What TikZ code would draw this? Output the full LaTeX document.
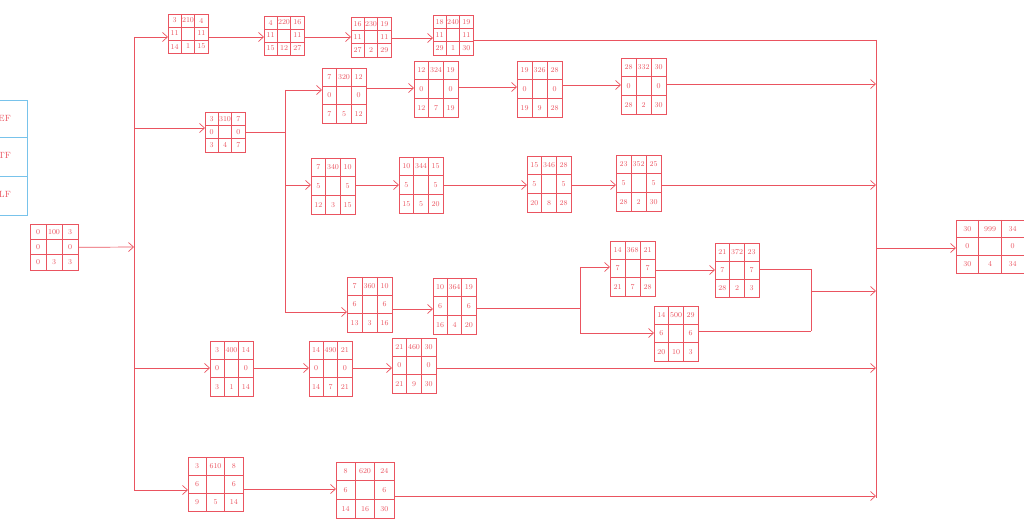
\documentclass[tikz,border=0pt]{standalone}
\usetikzlibrary{arrows.meta}
\definecolor{pr}{RGB}{234,84,96}
\definecolor{lb}{RGB}{120,195,235}
\tikzset{
 txt/.style={text=pr,font=\fontsize{7.5}{8}\selectfont,inner sep=0},
 ln/.style={draw=pr,line width=0.7pt},
 arr/.style={ln,-{Straight Barb[length=5pt,width=9pt]}},
}
\newcommand\pbox[8]{%
 \node[draw=pr,line width=0.7pt,minimum width=#4pt,minimum height=#5pt,anchor=north west,inner sep=0] (#1) at (#2,#3) {};
 \draw[pr,line width=0.5pt] ({#2+#4/3},#3) -- ++(0,#5) ({#2+2*#4/3},#3) -- ++(0,#5)
   (#2,{#3+#5/3}) -- ++(#4,0) (#2,{#3+2*#5/3}) -- ++(#4,0);
 \foreach \t [count=\i] in {#6} \node[txt] at ({#2+(\i-0.5)*#4/3},{#3+#5/6}) {\t};
 \foreach \t [count=\i] in {#7} \node[txt] at ({#2+(\i-0.5)*#4/3},{#3+#5/2}) {\t};
 \foreach \t [count=\i] in {#8} \node[txt] at ({#2+(\i-0.5)*#4/3},{#3+5*#5/6}) {\t};
}
\begin{document}
\begin{tikzpicture}[x=1pt,y=-1pt]
\useasboundingbox (0,0) rectangle (1024,526);
\clip (0,0) rectangle (1024,526);
% legend
\draw[lb,line width=0.7pt] (-5,100) rectangle (27,215) (-5,137) -- (27,137) (-5,176) -- (27,176);
\node[txt,anchor=east,font=\small] at (11,118) {EF};
\node[txt,anchor=east,font=\small] at (11,155) {TF};
\node[txt,anchor=east,font=\small] at (11,194) {LF};
% boxes
\pbox{A0}{30}{224}{48}{46}{0,100,3}{0,,0}{0,3,3}
\pbox{B1}{168}{14}{40}{39}{3,210,4}{11,,11}{14,1,15}
\pbox{B2}{264}{16}{40}{39}{4,220,16}{11,,11}{15,12,27}
\pbox{B3}{351}{17}{40}{40}{16,230,19}{11,,11}{27,2,29}
\pbox{B4}{433}{15}{40}{40}{18,240,19}{11,,11}{29,1,30}
\pbox{C1}{205}{112}{40}{40}{3,310,7}{0,,0}{3,4,7}
\pbox{C2}{322}{68}{44}{55}{7,320,12}{0,,0}{7,5,12}
\pbox{C3}{414}{61}{44}{56}{12,324,19}{0,,0}{12,7,19}
\pbox{C4}{517}{61}{45}{56}{19,326,28}{0,,0}{19,9,28}
\pbox{C5}{621}{58}{45}{56}{28,332,30}{0,,0}{28,2,30}
\pbox{D1}{311}{158}{44}{56}{7,340,10}{5,,5}{12,3,15}
\pbox{D2}{399}{157}{44}{56}{10,344,15}{5,,5}{15,5,20}
\pbox{D3}{527}{156}{44}{56}{15,346,28}{5,,5}{20,8,28}
\pbox{D4}{616}{155}{45}{56}{23,352,25}{5,,5}{28,2,30}
\pbox{E1}{347}{277}{45}{55}{7,360,10}{6,,6}{13,3,16}
\pbox{E2}{433}{278}{43}{56}{10,364,19}{6,,6}{16,4,20}
\pbox{E3}{610}{241}{45}{55}{14,368,21}{7,,7}{21,7,28}
\pbox{E4}{715}{243}{44}{54}{21,372,23}{7,,7}{28,2,3}
\pbox{E5}{654}{306}{44}{55}{14,500,29}{6,,6}{20,10,3}
\pbox{F1}{210}{341}{43}{55}{3,400,14}{0,,0}{3,1,14}
\pbox{F2}{309}{341}{43}{55}{14,490,21}{0,,0}{14,7,21}
\pbox{F3}{392}{338}{44}{55}{21,460,30}{0,,0}{21,9,30}
\pbox{G1}{188}{457}{55}{54}{3,610,8}{6,,6}{9,5,14}
\pbox{G2}{336}{462}{58}{56}{8,620,24}{6,,6}{14,16,30}
\pbox{H}{956}{220}{68}{53}{30,999,34}{0,,0}{30,4,34}
% buses
\coordinate (s1) at (134,37); \coordinate (s2) at (134,490);
\coordinate (s0) at (134,247);
\coordinate (t1) at (285,90); \coordinate (t2) at (285,312); \coordinate (tc) at (285,132);
\coordinate (r1) at (876,40); \coordinate (r2) at (876,498);
\coordinate (u1) at (580,267); \coordinate (u2) at (580,333); \coordinate (ue) at (580,308);
\coordinate (m1) at (811,269); \coordinate (m2) at (811,331); \coordinate (mm) at (811,291);
\draw[ln] (s1) -- (s2) (t1) -- (t2) (r1) -- (r2) (u1) -- (u2) (m1) -- (m2);
\draw[arr] (A0.east) -- (s0);
\draw[arr] (s1) -- (B1.west|-s1);
\draw[arr] (134,128) -- (C1.west|-0,128);
\draw[arr] (134,368) -- (F1.west|-0,368);
\draw[arr] (s2) -- (G1.west|-s2);
\draw[arr] (B1.east|-s1) -- (B2.west|-s1);
\draw[arr] (B2.east|-s1) -- (B3.west|-s1);
\draw[arr] (B3.east|-0,38) -- (B4.west|-0,38);
\draw[ln] (B4.east|-r1) -- (r1);
\draw[ln] (C1.east|-tc) -- (tc);
\draw[arr] (t1) -- (C2.west|-t1);
\draw[arr] (C2.east|-0,88) -- (C3.west|-0,88);
\draw[arr] (C3.east|-0,87) -- (C4.west|-0,87);
\draw[arr] (C4.east|-0,85) -- (C5.west|-0,85);
\draw[arr] (C5.east|-0,84) -- (876,84);
\draw[arr] (285,185) -- (D1.west|-0,185);
\draw[arr] (D1.east|-0,185) -- (D2.west|-0,185);
\draw[arr] (D2.east|-0,185) -- (D3.west|-0,185);
\draw[arr] (D3.east|-0,185) -- (D4.west|-0,185);
\draw[arr] (D4.east|-0,185) -- (876,185);
\draw[arr] (t2) -- (E1.west|-t2);
\draw[arr] (E1.east|-0,309) -- (E2.west|-0,309);
\draw[ln] (E2.east|-ue) -- (ue);
\draw[arr] (u1) -- (E3.west|-u1);
\draw[arr] (u2) -- (E5.west|-u2);
\draw[arr] (E3.east|-0,270) -- (E4.west|-0,270);
\draw[ln] (E4.east|-m1) -- (m1);
\draw[ln] (E5.east|-m2) -- (m2);
\draw[arr] (mm) -- (876,291);
\draw[arr] (876,248) -- (H.west|-0,248);
\draw[arr] (F1.east|-0,368) -- (F2.west|-0,368);
\draw[arr] (F2.east|-0,368) -- (F3.west|-0,368);
\draw[arr] (F3.east|-0,368) -- (876,368);
\draw[arr] (G1.east|-0,489) -- (G2.west|-0,489);
\draw[arr] (G2.east|-0,496) -- (876,496);
\end{tikzpicture}
\end{document}
